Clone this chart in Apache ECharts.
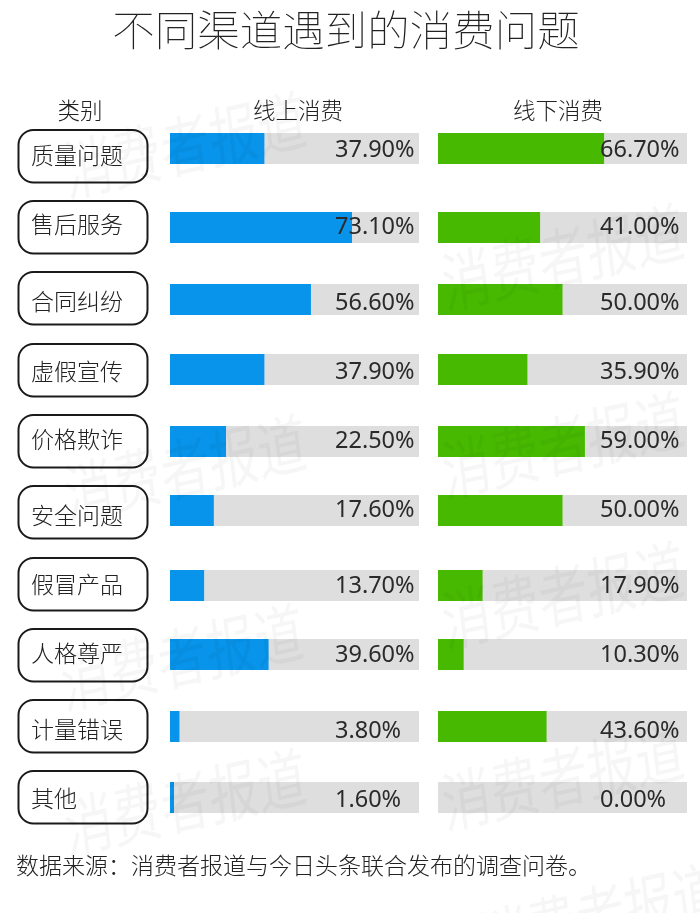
<!DOCTYPE html>
<html>
<head>
<meta charset="utf-8">
<style>html,body{margin:0;padding:0;background:#fff}#main{width:700px;height:913px}</style>
<script src="https://cdn.jsdelivr.net/npm/echarts@6/dist/echarts.min.js"></script>
</head>
<body>
<div id="main"></div>
<script>
var categories = ['质量问题', '售后服务', '合同纠纷', '虚假宣传', '价格欺诈', '安全问题', '假冒产品', '人格尊严', '计量错误', '其他'];
var onlineValues = [37.9, 73.1, 56.6, 37.9, 22.5, 17.6, 13.7, 39.6, 3.8, 1.6];
var offlineValues = [66.7, 41.0, 50.0, 35.9, 59.0, 50.0, 17.9, 10.3, 43.6, 0.0];

// the rows in the picture are not evenly spaced
var barTops = [133, 212, 284, 354, 426, 495, 570, 639, 711, 782];
var labelCenters = [150, 227, 303, 372, 441, 510, 586, 655, 731, 800];
var pillTops = [130, 201, 272, 344, 415, 486, 558, 629, 700, 771];
var pillTextCenters = [155, 224, 301, 371, 439, 515, 584, 653, 729, 798];
var watermarks = [[185, 145], [563, 257], [563, 445], [185, 468], [182, 657], [563, 595], [563, 777], [185, 802], [600, 915]];

var CJK = '"Noto Sans CJK SC"';
var LATIN = '"Noto Sans"';
var BLUE = '#0894ea', GREEN = '#47b900', TRACK = '#dedede';

var grid = [], xAxis = [], yAxis = [], series = [];
function addColumn(left, labelX, values, color) {
  values.forEach(function (v, i) {
    var idx = grid.length;
    grid.push({left: left, width: 249, top: barTops[i], height: 31});
    xAxis.push({gridIndex: idx, type: 'value', min: 0, max: 100, show: false});
    yAxis.push({gridIndex: idx, type: 'category', data: [categories[i]], show: false});
    series.push({
      type: 'bar',
      xAxisIndex: idx,
      yAxisIndex: idx,
      data: [v],
      barWidth: '100%',
      silent: true,
      animation: false,
      itemStyle: {color: color},
      showBackground: true,
      backgroundStyle: {color: TRACK},
      label: {
        show: true,
        position: [labelX, labelCenters[i] - barTops[i]],
        align: 'left',
        verticalAlign: 'middle',
        fontFamily: LATIN,
        fontSize: 23.5,
        fontWeight: 400,
        color: '#2a2a2a',
        formatter: function (p) { return p.value.toFixed(2) + '%'; }
      }
    });
  });
}
addColumn(170, 165, onlineValues, BLUE);
addColumn(438, 162, offlineValues, GREEN);

function text(str, x, y, size, align, weight, fill) {
  return {
    type: 'text', silent: true, x: x, y: y,
    style: {text: str, fontFamily: CJK, fontSize: size, fontWeight: weight || 300, fill: fill || '#222', align: align || 'left', verticalAlign: 'middle'}
  };
}

var graphic = [
  text('不同渠道遇到的消费问题', 346, 30, 42.5, 'center', 100, '#222'),
  text('类别', 80, 110, 22.5, 'center'),
  text('线上消费', 298, 110, 22.5, 'center'),
  text('线下消费', 558, 110, 22.5, 'center'),
  text('数据来源：消费者报道与今日头条联合发布的调查问卷。', 16, 865, 23)
];
categories.forEach(function (c, i) {
  graphic.push({
    type: 'rect', silent: true,
    shape: {x: 18.5, y: pillTops[i], width: 129, height: 52.5, r: 15},
    style: {fill: '#fff', stroke: '#1a1a1a', lineWidth: 2}
  });
  graphic.push(text(c, 31, pillTextCenters[i], 23));
});
// watermark looks sheared: rotate, then stretch vertically in the parent group
watermarks.forEach(function (w) {
  graphic.push({
    type: 'group', silent: true, z: 100,
    x: w[0], y: w[1], scaleY: 1.35,
    children: [{
      type: 'text', silent: true, z: 100,
      rotation: 9.5 * Math.PI / 180,
      style: {text: '消费者报道', fontFamily: CJK, fontSize: 49, fontWeight: 400, fill: 'rgba(0,0,0,0.035)', align: 'center', verticalAlign: 'middle'}
    }]
  });
});

var chart = echarts.init(document.getElementById('main'), null, {renderer: 'canvas'});
chart.setOption({
  animation: false,
  backgroundColor: '#fff',
  grid: grid,
  xAxis: xAxis,
  yAxis: yAxis,
  series: series,
  graphic: graphic
});
</script>
</body>
</html>
